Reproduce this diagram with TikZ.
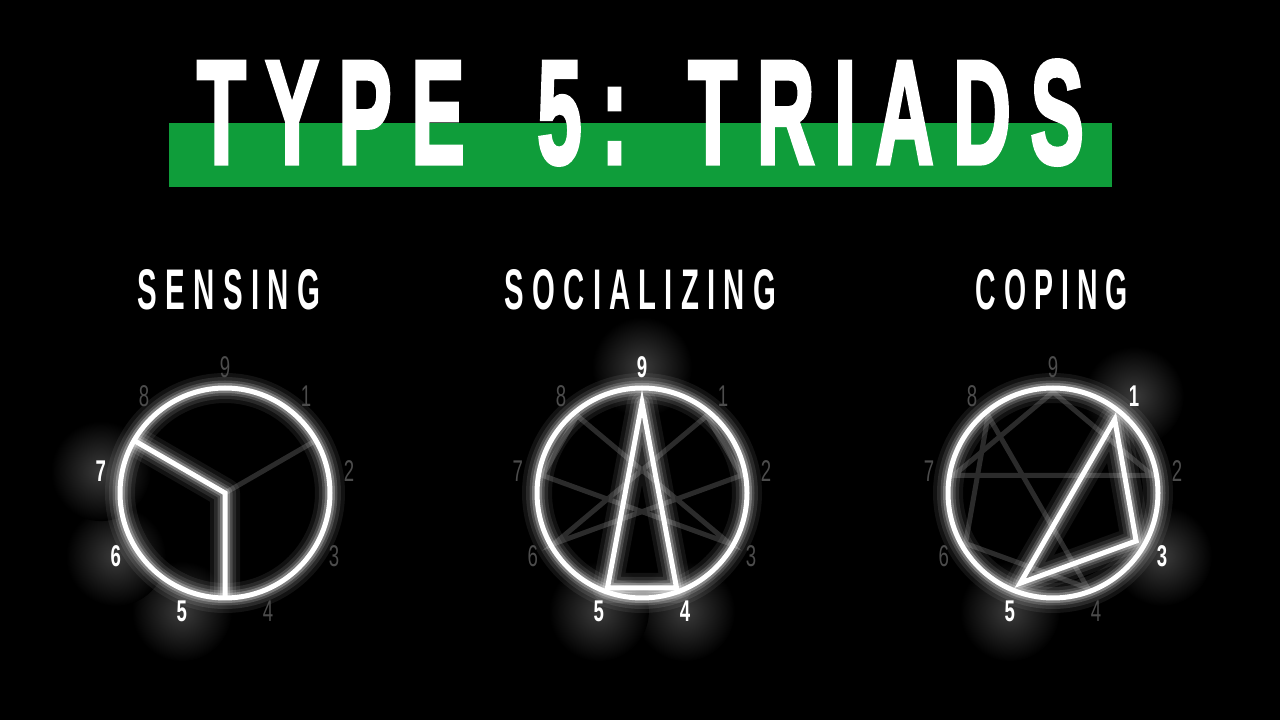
\documentclass[tikz,border=0pt]{standalone}
\usepackage{fontspec}
\usepackage{graphicx}
\usepackage{tikz}
\newfontfamily\headfont{Liberation Sans}[LetterSpace=28]
\newfontfamily\titlefont{Liberation Sans}[LetterSpace=24,FakeBold=3]
\newfontfamily\numfont{Liberation Sans}[FakeStretch=0.62]
\definecolor{bargreen}{RGB}{15,157,58}

\begin{document}
\begin{tikzpicture}[x=1pt,y=1pt,
    glow/.style={draw=white,line width=5pt,
      preaction={draw=white,opacity=.07,line width=30pt,line join=round},
      preaction={draw=white,opacity=.1,line width=22pt,line join=round},
      preaction={draw=white,opacity=.16,line width=15pt,line join=round},
      preaction={draw=white,opacity=.27,line width=10pt,line join=round}},
    faint/.style={draw=white!17!black,line width=5pt},
    num/.style={font=\numfont\fontsize{30}{30}\selectfont,text=white!30!black,inner sep=0pt},
    hinum/.style={font=\numfont\bfseries\fontsize{30}{30}\selectfont,text=white,inner sep=0pt},
    halo/.style={inner color=white!23!black,outer color=black}]
  \useasboundingbox (0,0) rectangle (1280,720);
  \fill[black] (0,0) rectangle (1280,720);

  % title
  \fill[bargreen] (169,533) rectangle (1112,597);
  \node[anchor=south,inner sep=0pt,text=white] (title) at (640.5,555)
    {\resizebox{887pt}{103pt}{\titlefont\bfseries TYPE\hspace{.9em}5:\hspace{.75em}TRIADS}};

  \node[anchor=south,inner sep=0pt,text=white] (sensing) at (229,410)
    {\resizebox{182pt}{40pt}{\headfont\bfseries SENSING}};
  \node[anchor=south,inner sep=0pt,text=white] (socializing) at (640.5,410)
    {\resizebox{271pt}{40pt}{\headfont\bfseries SOCIALIZING}};
  \node[anchor=south,inner sep=0pt,text=white] (coping) at (1052,410)
    {\resizebox{152pt}{40pt}{\headfont\bfseries COPING}};

  % sensing
  \begin{scope}[shift={(225,227)}]
    \foreach \n/\a in {5/-110,6/-150,7/170}
      \shade[halo] (\a:126) circle (50pt);
    \coordinate (senc) at (0,0);
    \coordinate (sena) at (30:104);
    \coordinate (senb) at (150:104);
    \coordinate (send) at (270:104);
    \draw[faint] (senc) -- (sena);
    \draw[glow] (0,0) circle (105);
    \draw[glow] (senb) -- (senc) -- (send);
    \foreach \n/\a in {9/90,1/50,2/10,3/-30,4/-70,8/130}
      \node[num] (sen\n) at (\a:126) {\n};
    \foreach \n/\a in {5/-110,6/-150,7/170}
      \node[hinum] (sen\n) at (\a:126) {\n};
  \end{scope}

  % socializing
  \begin{scope}[shift={(642,227)}]
    \foreach \n/\a in {9/90,4/-70,5/-110}
      \shade[halo] (\a:126) circle (50pt);
    \foreach \n/\a in {1/50,2/10,3/-30,6/-150,7/170,8/130}
      \coordinate (socp\n) at (\a:101);
    \coordinate (socp9) at (90:90);
    \coordinate (socp4) at (-70:101);
    \coordinate (socp5) at (-110:101);
    \draw[faint] (socp1) -- (socp2) -- (socp6) -- cycle;
    \draw[faint] (socp3) -- (socp7) -- (socp8) -- cycle;
    \draw[glow] (0,0) circle (105);
    \draw[glow] (socp9) -- (socp4) -- (socp5) -- cycle;
    \foreach \n/\a in {1/50,2/10,3/-30,6/-150,7/170,8/130}
      \node[num] (soc\n) at (\a:126) {\n};
    \foreach \n/\a in {9/90,4/-70,5/-110}
      \node[hinum] (soc\n) at (\a:126) {\n};
  \end{scope}

  % coping
  \begin{scope}[shift={(1053,227)}]
    \foreach \n/\a in {1/50,3/-30,5/-110}
      \shade[halo] (\a:126) circle (50pt);
    \foreach \n/\a in {9/90,2/10,4/-70,6/-150,7/170,8/130}
      \coordinate (copp\n) at (\a:101);
    \foreach \n/\a in {1/50,3/-30,5/-110}
      \coordinate (copp\n) at (\a:96);
    \draw[faint] (copp9) -- (copp2) -- (copp7) -- cycle;
    \draw[faint] (copp8) -- (copp4) -- (copp6) -- cycle;
    \draw[glow] (0,0) circle (105);
    \draw[glow] (copp1) -- (copp3) -- (copp5) -- cycle;
    \foreach \n/\a in {9/90,2/10,4/-70,6/-150,7/170,8/130}
      \node[num] (cop\n) at (\a:126) {\n};
    \foreach \n/\a in {1/50,3/-30,5/-110}
      \node[hinum] (cop\n) at (\a:126) {\n};
  \end{scope}
\end{tikzpicture}
\end{document}
